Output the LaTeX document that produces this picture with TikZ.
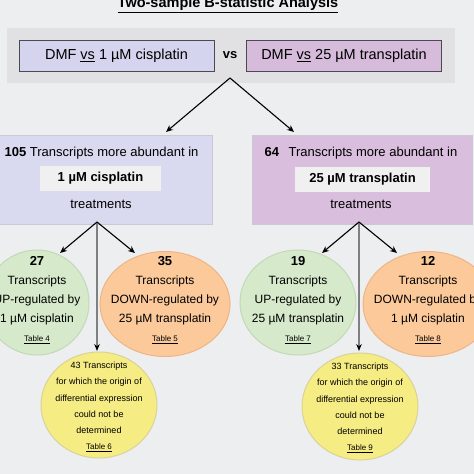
\documentclass[tikz,border=0pt]{standalone}
\usepackage{fontspec}
\setmainfont{Liberation Sans}
\usetikzlibrary{shapes.geometric,arrows.meta}
\definecolor{bgc}{HTML}{EDEEF0}
\definecolor{bandc}{HTML}{E1E1E3}
\definecolor{lavtop}{HTML}{D4D4EE}
\definecolor{pinktop}{HTML}{D6BBDB}
\definecolor{lavmid}{HTML}{D9D9EF}
\definecolor{pinkmid}{HTML}{D9BEDD}
\definecolor{innerc}{HTML}{F0F0F0}
\definecolor{greenc}{HTML}{D6EACB}
\definecolor{greenb}{HTML}{C2D9B5}
\definecolor{orangec}{HTML}{FCC99B}
\definecolor{orangeb}{HTML}{EDB585}
\definecolor{yellowc}{HTML}{F5EC84}
\definecolor{yellowb}{HTML}{D9D29A}
\definecolor{midb}{HTML}{C8C8D6}
\definecolor{topb}{HTML}{4A4A55}
\definecolor{vline}{HTML}{808080}
\begin{document}
\begin{tikzpicture}[x=1pt,y=-1pt,
  topbox/.style={draw=topb,line width=1pt,minimum width=195pt,minimum height=31pt,inner sep=0pt,font=\fontsize{14.5}{17}\selectfont},
  midbox/.style={draw=midb,line width=0.8pt,minimum width=220pt,minimum height=89pt,inner sep=0pt},
  innerbox/.style={fill=innerc,minimum height=25pt,inner sep=0pt,font=\bfseries\fontsize{13}{15}\selectfont},
  midtext/.style={inner sep=0pt,font=\fontsize{13}{15}\selectfont},
  bubble/.style={ellipse,line width=1pt,inner sep=0pt},
  bubtext/.style={align=center,inner sep=0pt,font=\fontsize{12}{19.2}\selectfont},
  ytext/.style={align=center,inner sep=0pt,font=\fontsize{9}{16.2}\selectfont},
  arr/.style={line width=1.1pt,-{Stealth[length=7pt,width=6pt]}},
  varr/.style={draw=vline,line width=1.3pt,-{Stealth[length=7pt,width=5.5pt,black]}}
]
\useasboundingbox (0,0) rectangle (474,474);
\fill[bgc] (0,0) rectangle (474,474);
% title
\node[anchor=base,inner sep=0pt,font=\bfseries\fontsize{14.5}{17}\selectfont] (title) at (228,7.5) {\underline{Two-sample B-statistic Analysis}};
% band
\node[fill=bandc,minimum width=448pt,minimum height=55pt,inner sep=0pt] (band) at (231,55.5) {};
\node[topbox,fill=lavtop] (tl) at (116.5,56) {DMF \underline{vs} 1 µM cisplatin};
\node[topbox,fill=pinktop] (tr) at (344,56) {DMF \underline{vs} 25 µM transplatin};
\node[inner sep=0pt,font=\bfseries\fontsize{13}{15}\selectfont] (vs) at (230,55) {vs};
% top arrows
\coordinate (apex) at (230,78);
\coordinate (tipL) at (166,132);
\coordinate (tipR) at (294,132);
\draw[arr] (apex) -- (tipL);
\draw[arr] (apex) -- (tipR);
% middle boxes
\node[midbox,fill=lavmid] (ml) at (102,179.5) {};
\node[midbox,fill=pinkmid] (mr) at (362,179.5) {};
\node[midtext] (mlh) at (101.5,153) {\textbf{105} Transcripts more abundant in};
\node[innerbox,minimum width=121pt] (mli) at (100.5,178.5) {1 µM cisplatin};
\node[midtext] (mlt) at (101,204) {treatments};
\node[midtext] (mrh) at (361,153) {\textbf{64}\hspace{0.45em} Transcripts more abundant in};
\node[innerbox,minimum width=135pt] (mri) at (362.5,179.5) {25 µM transplatin};
\node[midtext] (mrt) at (361,204) {treatments};
% bubbles left
\node[bubble,draw=greenb,fill=greenc,minimum width=104pt,minimum height=105pt] (gl) at (37,302.5) {};
\node[bubble,draw=orangeb,fill=orangec,minimum width=130pt,minimum height=105pt] (ol) at (165,304) {};
\node[bubble,draw=yellowb,fill=yellowc,minimum width=116pt,minimum height=106pt] (yl) at (99,405) {};
\node[bubtext] (glt) at (37,300) {\textbf{\fontsize{13}{19.2}\selectfont 27}\\Transcripts\\UP-regulated by\\1 µM cisplatin\\{\fontsize{8}{10}\selectfont\underline{Table 4}}};
\node[bubtext] (olt) at (165,300) {\textbf{\fontsize{13}{19.2}\selectfont 35}\\Transcripts\\DOWN-regulated by\\25 µM transplatin\\{\fontsize{8}{10}\selectfont\underline{Table 5}}};
\node[ytext] (ylt) at (99,407) {43 Transcripts\\for which the origin of\\differential expression\\could not be\\determined\\{\fontsize{8}{10}\selectfont\underline{Table 6}}};
% bubbles right
\node[bubble,draw=greenb,fill=greenc,minimum width=116pt,minimum height=105pt] (gr) at (298,302.5) {};
\node[bubble,draw=orangeb,fill=orangec,minimum width=130pt,minimum height=105pt] (or) at (428,304) {};
\node[bubble,draw=yellowb,fill=yellowc,minimum width=116pt,minimum height=107pt] (yr) at (360,406.5) {};
\node[bubtext] (grt) at (298,300) {\textbf{\fontsize{13}{19.2}\selectfont 19}\\Transcripts\\UP-regulated by\\25 µM transplatin\\{\fontsize{8}{10}\selectfont\underline{Table 7}}};
\node[bubtext] (ort) at (428,300) {\textbf{\fontsize{13}{19.2}\selectfont 12}\\Transcripts\\DOWN-regulated by\\1 µM cisplatin\\{\fontsize{8}{10}\selectfont\underline{Table 8}}};
\node[ytext] (yrt) at (360,408) {33 Transcripts\\for which the origin of\\differential expression\\could not be\\determined\\{\fontsize{8}{10}\selectfont\underline{Table 9}}};
% lower arrows left
\coordinate (apL) at (97,222);
\coordinate (tLa) at (60,253);
\coordinate (tLb) at (135,253);
\coordinate (tLc) at (97,351);
\draw[varr] (apL) -- (tLc);
\draw[arr] (apL) -- (tLa);
\draw[arr] (apL) -- (tLb);
% lower arrows right
\coordinate (apR) at (359,222);
\coordinate (tRa) at (322,253);
\coordinate (tRb) at (397,253);
\coordinate (tRc) at (359,351);
\draw[varr] (apR) -- (tRc);
\draw[arr] (apR) -- (tRa);
\draw[arr] (apR) -- (tRb);
\end{tikzpicture}
\end{document}
